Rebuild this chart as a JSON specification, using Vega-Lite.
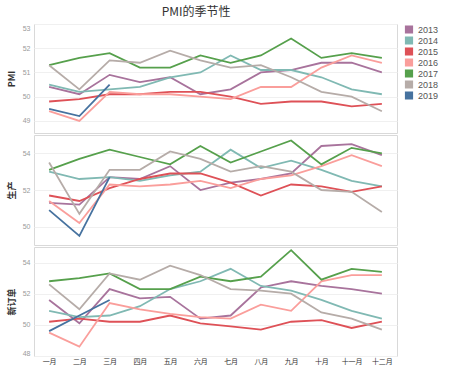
{
  "$schema": "https://vega.github.io/schema/vega-lite/v6.json",
  "padding": {"left": 6, "top": 5, "right": 0, "bottom": 0},
  "title": {"text": "PMI的季节性", "font": "Noto Sans CJK SC", "fontSize": 12, "fontWeight": "normal", "color": "#333333", "anchor": "start", "dx": 155, "offset": 5},
  "spacing": 0,
  "data": {"values": [
    {"yr": "2013", "m": "一月", "p": 50.4, "s": 51.3, "o": 51.6},
    {"yr": "2013", "m": "二月", "p": 50.1, "s": 51.2, "o": 50.1},
    {"yr": "2013", "m": "三月", "p": 50.9, "s": 52.7, "o": 52.3},
    {"yr": "2013", "m": "四月", "p": 50.6, "s": 52.6, "o": 51.7},
    {"yr": "2013", "m": "五月", "p": 50.8, "s": 53.3, "o": 51.8},
    {"yr": "2013", "m": "六月", "p": 50.1, "s": 52.0, "o": 50.4},
    {"yr": "2013", "m": "七月", "p": 50.3, "s": 52.4, "o": 50.6},
    {"yr": "2013", "m": "八月", "p": 51.0, "s": 52.6, "o": 52.4},
    {"yr": "2013", "m": "九月", "p": 51.1, "s": 52.9, "o": 52.8},
    {"yr": "2013", "m": "十月", "p": 51.4, "s": 54.4, "o": 52.5},
    {"yr": "2013", "m": "十一月", "p": 51.4, "s": 54.5, "o": 52.3},
    {"yr": "2013", "m": "十二月", "p": 51.0, "s": 53.9, "o": 52.0},
    {"yr": "2014", "m": "一月", "p": 50.5, "s": 53.0, "o": 50.9},
    {"yr": "2014", "m": "二月", "p": 50.2, "s": 52.6, "o": 50.5},
    {"yr": "2014", "m": "三月", "p": 50.3, "s": 52.7, "o": 50.6},
    {"yr": "2014", "m": "四月", "p": 50.4, "s": 52.5, "o": 51.2},
    {"yr": "2014", "m": "五月", "p": 50.8, "s": 52.8, "o": 52.3},
    {"yr": "2014", "m": "六月", "p": 51.0, "s": 53.0, "o": 52.8},
    {"yr": "2014", "m": "七月", "p": 51.7, "s": 54.2, "o": 53.6},
    {"yr": "2014", "m": "八月", "p": 51.1, "s": 53.2, "o": 52.5},
    {"yr": "2014", "m": "九月", "p": 51.1, "s": 53.6, "o": 52.2},
    {"yr": "2014", "m": "十月", "p": 50.8, "s": 53.1, "o": 51.6},
    {"yr": "2014", "m": "十一月", "p": 50.3, "s": 52.5, "o": 50.9},
    {"yr": "2014", "m": "十二月", "p": 50.1, "s": 52.2, "o": 50.4},
    {"yr": "2015", "m": "一月", "p": 49.8, "s": 51.7, "o": 50.2},
    {"yr": "2015", "m": "二月", "p": 49.9, "s": 51.4, "o": 50.4},
    {"yr": "2015", "m": "三月", "p": 50.1, "s": 52.1, "o": 50.2},
    {"yr": "2015", "m": "四月", "p": 50.1, "s": 52.6, "o": 50.2},
    {"yr": "2015", "m": "五月", "p": 50.2, "s": 52.9, "o": 50.6},
    {"yr": "2015", "m": "六月", "p": 50.2, "s": 52.9, "o": 50.1},
    {"yr": "2015", "m": "七月", "p": 50.0, "s": 52.4, "o": 49.9},
    {"yr": "2015", "m": "八月", "p": 49.7, "s": 51.7, "o": 49.7},
    {"yr": "2015", "m": "九月", "p": 49.8, "s": 52.3, "o": 50.2},
    {"yr": "2015", "m": "十月", "p": 49.8, "s": 52.2, "o": 50.3},
    {"yr": "2015", "m": "十一月", "p": 49.6, "s": 51.9, "o": 49.8},
    {"yr": "2015", "m": "十二月", "p": 49.7, "s": 52.2, "o": 50.2},
    {"yr": "2016", "m": "一月", "p": 49.4, "s": 51.4, "o": 49.5},
    {"yr": "2016", "m": "二月", "p": 49.0, "s": 50.2, "o": 48.6},
    {"yr": "2016", "m": "三月", "p": 50.2, "s": 52.3, "o": 51.4},
    {"yr": "2016", "m": "四月", "p": 50.1, "s": 52.2, "o": 51.0},
    {"yr": "2016", "m": "五月", "p": 50.1, "s": 52.3, "o": 50.7},
    {"yr": "2016", "m": "六月", "p": 50.0, "s": 52.5, "o": 50.5},
    {"yr": "2016", "m": "七月", "p": 49.9, "s": 52.1, "o": 50.4},
    {"yr": "2016", "m": "八月", "p": 50.4, "s": 52.6, "o": 51.3},
    {"yr": "2016", "m": "九月", "p": 50.4, "s": 52.8, "o": 50.9},
    {"yr": "2016", "m": "十月", "p": 51.2, "s": 53.3, "o": 52.8},
    {"yr": "2016", "m": "十一月", "p": 51.7, "s": 53.9, "o": 53.2},
    {"yr": "2016", "m": "十二月", "p": 51.4, "s": 53.3, "o": 53.2},
    {"yr": "2017", "m": "一月", "p": 51.3, "s": 53.1, "o": 52.8},
    {"yr": "2017", "m": "二月", "p": 51.6, "s": 53.7, "o": 53.0},
    {"yr": "2017", "m": "三月", "p": 51.8, "s": 54.2, "o": 53.3},
    {"yr": "2017", "m": "四月", "p": 51.2, "s": 53.8, "o": 52.3},
    {"yr": "2017", "m": "五月", "p": 51.2, "s": 53.4, "o": 52.3},
    {"yr": "2017", "m": "六月", "p": 51.7, "s": 54.4, "o": 53.1},
    {"yr": "2017", "m": "七月", "p": 51.4, "s": 53.5, "o": 52.8},
    {"yr": "2017", "m": "八月", "p": 51.7, "s": 54.1, "o": 53.1},
    {"yr": "2017", "m": "九月", "p": 52.4, "s": 54.7, "o": 54.8},
    {"yr": "2017", "m": "十月", "p": 51.6, "s": 53.4, "o": 52.9},
    {"yr": "2017", "m": "十一月", "p": 51.8, "s": 54.3, "o": 53.6},
    {"yr": "2017", "m": "十二月", "p": 51.6, "s": 54.0, "o": 53.4},
    {"yr": "2018", "m": "一月", "p": 51.3, "s": 53.5, "o": 52.6},
    {"yr": "2018", "m": "二月", "p": 50.3, "s": 50.7, "o": 51.0},
    {"yr": "2018", "m": "三月", "p": 51.5, "s": 53.1, "o": 53.3},
    {"yr": "2018", "m": "四月", "p": 51.4, "s": 53.1, "o": 52.9},
    {"yr": "2018", "m": "五月", "p": 51.9, "s": 54.1, "o": 53.8},
    {"yr": "2018", "m": "六月", "p": 51.5, "s": 53.7, "o": 53.2},
    {"yr": "2018", "m": "七月", "p": 51.2, "s": 53.0, "o": 52.3},
    {"yr": "2018", "m": "八月", "p": 51.3, "s": 53.3, "o": 52.2},
    {"yr": "2018", "m": "九月", "p": 50.8, "s": 53.0, "o": 52.0},
    {"yr": "2018", "m": "十月", "p": 50.2, "s": 52.0, "o": 50.8},
    {"yr": "2018", "m": "十一月", "p": 50.0, "s": 51.9, "o": 50.4},
    {"yr": "2018", "m": "十二月", "p": 49.4, "s": 50.8, "o": 49.7},
    {"yr": "2019", "m": "一月", "p": 49.5, "s": 50.9, "o": 49.6},
    {"yr": "2019", "m": "二月", "p": 49.2, "s": 49.5, "o": 50.6},
    {"yr": "2019", "m": "三月", "p": 50.5, "s": 52.7, "o": 51.6}
  ]},
  "config": {
    "view": {"stroke": "#d9d9d9"},
    "axis": {
      "labelFont": "Liberation Sans", "labelFontSize": 7, "labelColor": "#9a9a9a",
      "titleFont": "Noto Sans CJK SC", "titleFontSize": 9, "titleFontWeight": "bold", "titleColor": "#333333",
      "gridColor": "#f0f0f0", "domain": false, "ticks": false, "labelPadding": 4, "titlePadding": 6
    },
    "legend": {
      "title": null, "orient": "right", "offset": 6, "padding": 0,
      "symbolType": "M-0.8,-0.8H0.8V0.8H-0.8Z M-0.4,-0.4H0.4V0.4H-0.4Z M-0.05,-0.05H0.05V0.05H-0.05Z",
      "symbolSize": 64,
      "labelFont": "Liberation Sans", "labelFontSize": 9, "labelColor": "#555555", "rowPadding": 0, "clipHeight": 11, "labelOffset": 4
    },
    "line": {"strokeWidth": 1.8}
  },
  "vconcat": [
    {
      "width": 363, "height": 109,
      "mark": "line",
      "encoding": {
        "x": {"field": "m", "type": "ordinal", "sort": ["一月","二月","三月","四月","五月","六月","七月","八月","九月","十月","十一月","十二月"], "scale": {"type": "point", "padding": 0.5}, "axis": null},
        "y": {"field": "p", "type": "quantitative", "scale": {"domain": [48.5, 53], "zero": false, "nice": false}, "axis": {"title": "PMI", "values": [49, 50, 51, 52, 53], "labelFlush": true}},
        "color": {"field": "yr", "type": "nominal", "scale": {"domain": ["2013","2014","2015","2016","2017","2018","2019"], "range": ["#a8739c","#80b9b3","#de5157","#fa9e9b","#56a04c","#b6aca8","#46729f"]}}
      }
    },
    {
      "width": 363, "height": 110,
      "mark": "line",
      "encoding": {
        "x": {"field": "m", "type": "ordinal", "sort": ["一月","二月","三月","四月","五月","六月","七月","八月","九月","十月","十一月","十二月"], "scale": {"type": "point", "padding": 0.5}, "axis": null},
        "y": {"field": "s", "type": "quantitative", "scale": {"domain": [49, 55], "zero": false, "nice": false}, "axis": {"title": "生产", "values": [50, 52, 54]}},
        "color": {"field": "yr", "type": "nominal", "scale": {"domain": ["2013","2014","2015","2016","2017","2018","2019"], "range": ["#a8739c","#80b9b3","#de5157","#fa9e9b","#56a04c","#b6aca8","#46729f"]}}
      }
    },
    {
      "width": 363, "height": 109,
      "mark": "line",
      "encoding": {
        "x": {"field": "m", "type": "ordinal", "sort": ["一月","二月","三月","四月","五月","六月","七月","八月","九月","十月","十一月","十二月"], "scale": {"type": "point", "padding": 0.5}, "axis": {"title": null, "labelAngle": 0, "labelFont": "Noto Sans CJK SC", "labelFontSize": 7, "labelColor": "#333333", "labelPadding": 1, "grid": false}},
        "y": {"field": "o", "type": "quantitative", "scale": {"domain": [48, 55], "zero": false, "nice": false}, "axis": {"title": "新订单", "values": [48, 50, 52, 54], "labelFlush": true}},
        "color": {"field": "yr", "type": "nominal", "scale": {"domain": ["2013","2014","2015","2016","2017","2018","2019"], "range": ["#a8739c","#80b9b3","#de5157","#fa9e9b","#56a04c","#b6aca8","#46729f"]}}
      }
    }
  ]
}
